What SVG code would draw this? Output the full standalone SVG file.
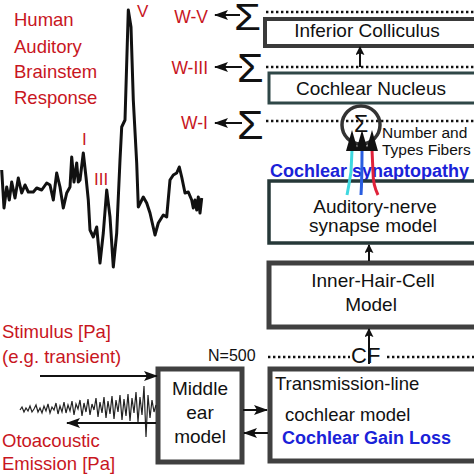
<svg xmlns="http://www.w3.org/2000/svg" width="474" height="474" viewBox="0 0 474 474">
<defs>
<style>
.t{font-family:"Liberation Sans",Arial,sans-serif;fill:#111}
.r{font-family:"Liberation Sans",Arial,sans-serif;fill:#c8161e}
.b{font-family:"Liberation Sans",Arial,sans-serif;fill:#1a22d8;font-weight:bold}
.box{fill:#fff}
.dot{stroke:#111;stroke-width:2.6;stroke-dasharray:2.4 2.6;fill:none}
.ln{stroke:#111;stroke-width:2;fill:none}
.sig{font-family:"Liberation Sans",Arial,sans-serif;fill:#111}
</style>
<marker id="ah" viewBox="0 0 14 10" refX="13" refY="5" markerWidth="14" markerHeight="10" markerUnits="userSpaceOnUse" orient="auto">
<path d="M0,0 L14,5 L0,10 L3,5 Z" fill="#111"/>
</marker>
<marker id="ahs" viewBox="0 0 10 10" refX="9" refY="5" markerWidth="9" markerHeight="9" markerUnits="userSpaceOnUse" orient="auto">
<path d="M0,0 L10,5 L0,10 L2,5 Z" fill="#111"/>
</marker>
</defs>

<g id="abr">
<text class="r" x="14" y="26" font-size="18.5">Human</text>
<text class="r" x="14" y="53" font-size="18.5">Auditory</text>
<text class="r" x="14" y="78" font-size="18.5">Brainstem</text>
<text class="r" x="14" y="104" font-size="18.5">Response</text>
<text class="r" x="137" y="17" font-size="17">V</text>
<text class="r" x="82" y="145" font-size="17">I</text>
<text class="r" x="94" y="185" font-size="17">III</text>
<polyline fill="none" stroke="#111" stroke-width="3" stroke-linejoin="round" points="1.7,170 4,208 6.7,187 9.3,200 11.7,182 15,198 18.3,178 21.7,193 25,185 28.3,192 33.3,192 36.7,188 41.7,190 46.7,183 50,185 53.3,200 56.7,173 60,187 63.3,208 66.7,193 70,187 71.7,157 74,182 76.7,163 78.3,182 80,180 83.3,153 86,177 88.3,200 90,230 93.3,237 96.7,227 100,263 103.3,233 106.7,190 110,217 113.3,267 116.7,233 120,160 121.7,127 125,120 128.3,10 131,27 133.3,100 136.7,163 138.3,207 143.3,197 146.7,203 150,213 155,235 158.3,223 163.3,215 166.7,217 170,180 173.3,175 176.7,173 179.3,167 181.7,177 185,193 188.3,192 191.7,200 193.3,208 195,200 196.7,210 198.3,197 200,213 201.7,198"/>
</g>

<g id="w-labels">
<text class="r" x="208" y="23" font-size="17.5" text-anchor="end">W-V</text>
<text class="r" x="208" y="74" font-size="17.5" text-anchor="end">W-III</text>
<text class="r" x="208" y="129" font-size="17.5" text-anchor="end">W-I</text>
</g>

<g id="sigmas">
<text class="sig" x="234" y="30" font-size="37" transform="translate(234 0) scale(1.18 1) translate(-234 0)">Σ</text>
<text class="sig" x="237" y="82" font-size="41" transform="translate(237 0) scale(1.05 1) translate(-237 0)">Σ</text>
<text class="sig" x="237" y="139" font-size="41" transform="translate(237 0) scale(1.05 1) translate(-237 0)">Σ</text>
</g>

<g id="dotted">
<line class="dot" x1="266" y1="12" x2="474" y2="12"/>
<line class="dot" x1="266" y1="67" x2="474" y2="67"/>
<line class="dot" x1="266" y1="121" x2="474" y2="121"/>
<line class="dot" x1="268" y1="357" x2="350" y2="357"/>
<line class="dot" x1="387" y1="357" x2="474" y2="357"/>
</g>

<g id="inferior-colliculus">
<rect class="box" x="265" y="19" width="215" height="27" stroke="#3a3a3a" stroke-width="4"/>
<text class="t" x="367" y="37" font-size="19" text-anchor="middle">Inferior Colliculus</text>
</g>

<g id="cochlear-nucleus">
<rect class="box" x="269" y="73" width="212" height="30" stroke="#2f4747" stroke-width="3"/>
<text class="t" x="371" y="95" font-size="19" text-anchor="middle">Cochlear Nucleus</text>
</g>

<g id="sum-node">
<circle cx="361" cy="125" r="19" fill="none" stroke="#333" stroke-width="3.5"/>
<text class="sig" x="361" y="132" font-size="23" text-anchor="middle">Σ</text>
<text class="t" x="382" y="138" font-size="15.5">Number and</text>
<text class="t" x="382" y="155" font-size="15.5">Types Fibers</text>
</g>

<g id="synaptopathy">
<text class="b" x="270" y="177" font-size="18">Cochlear synaptopathy</text>
</g>

<g id="auditory-nerve">
<rect class="box" x="269" y="181" width="212" height="62" stroke="#263838" stroke-width="3.5"/>
<text class="t" x="375" y="213" font-size="19" text-anchor="middle">Auditory-nerve</text>
<text class="t" x="373" y="232" font-size="19" text-anchor="middle">synapse model</text>
</g>

<g id="ihc">
<rect class="box" x="269" y="263" width="212" height="64" stroke="#404040" stroke-width="5"/>
<text class="t" x="373" y="287" font-size="19" text-anchor="middle">Inner-Hair-Cell</text>
<text class="t" x="371" y="311" font-size="19" text-anchor="middle">Model</text>
</g>

<g id="transmission-line">
<rect class="box" x="270" y="369" width="212" height="92" stroke="#404040" stroke-width="5"/>
<text class="t" x="275" y="390" font-size="18.5">Transmission-line</text>
<text class="t" x="285" y="421" font-size="18.5">cochlear model</text>
<text class="b" x="282" y="444" font-size="18">Cochlear Gain Loss</text>
</g>

<g id="middle-ear">
<rect class="box" x="158" y="369" width="84" height="93" stroke="#404040" stroke-width="5"/>
<text class="t" x="200" y="395" font-size="19" text-anchor="middle">Middle</text>
<text class="t" x="200" y="419" font-size="19" text-anchor="middle">ear</text>
<text class="t" x="200" y="443" font-size="19" text-anchor="middle">model</text>
</g>

<g id="io-labels">
<text class="r" x="2" y="338" font-size="18.5">Stimulus [Pa]</text>
<text class="r" x="2" y="363" font-size="18.5">(e.g. transient)</text>
<text class="r" x="2" y="447" font-size="18.5">Otoacoustic</text>
<text class="r" x="2" y="470" font-size="18.5">Emission [Pa]</text>
<text class="t" x="208" y="361" font-size="16">N=500</text>
<text class="t" x="351" y="363" font-size="22">CF</text>
</g>

<g id="connectors">
<polyline fill="none" stroke="#222" stroke-width="1.2" points="20,410 22,407 24,412 26,408 28,411 30,406 32,412 34,409 36,405 38,412 40,408 42,413 44,406 46,411 48,404 50,413 52,407 54,410 56,403 58,414 60,406 62,412 64,402 66,413 68,405 70,411 72,401 74,415 76,404 78,409 80,400 82,416 84,403 86,412 88,399 90,415 92,404 94,410 96,398 98,417 100,402 102,413 104,397 106,418 108,401 110,414 112,396 114,419 116,400 118,412 120,395 122,420 124,399 126,416 128,394 130,421 132,398 134,413 136,392 138,422 140,397 142,415 144,386 146,437 148,395 150,418 152,400 154,412 156,405"/>
<line class="ln" x1="40" y1="376" x2="157" y2="376" marker-end="url(#ah)"/>
<line class="ln" x1="156" y1="423" x2="67" y2="423" marker-end="url(#ah)"/>
<line class="ln" x1="243" y1="410" x2="267" y2="410" marker-end="url(#ah)"/>
<line class="ln" x1="268" y1="433" x2="244" y2="433" marker-end="url(#ah)"/>
<line class="ln" x1="240" y1="15" x2="215" y2="15" marker-end="url(#ah)"/>
<line class="ln" x1="242" y1="67" x2="215" y2="67" marker-end="url(#ah)"/>
<line class="ln" x1="242" y1="123" x2="215" y2="123" marker-end="url(#ah)"/>
<line class="ln" x1="360" y1="67" x2="360" y2="47" marker-end="url(#ahs)"/>
<line class="ln" x1="369" y1="261" x2="369" y2="245" marker-end="url(#ahs)"/>
<line class="ln" x1="369" y1="364" x2="369" y2="329" marker-end="url(#ahs)"/>
<path d="M347,195 Q349,185 351,172 L352,150" fill="none" stroke="#3fd8e0" stroke-width="3"/>
<path d="M361,195 Q362,180 362,150" fill="none" stroke="#2a5ee0" stroke-width="3"/>
<path d="M378,195 Q373,185 373,172 L372,150" fill="none" stroke="#e0223a" stroke-width="3"/>
<path d="M352,130 L358,151 L346,151 Z" fill="#111"/>
<path d="M362,130 L368,151 L356,151 Z" fill="#111"/>
<path d="M372,130 L378,151 L366,151 Z" fill="#111"/>
</g>
</svg>
